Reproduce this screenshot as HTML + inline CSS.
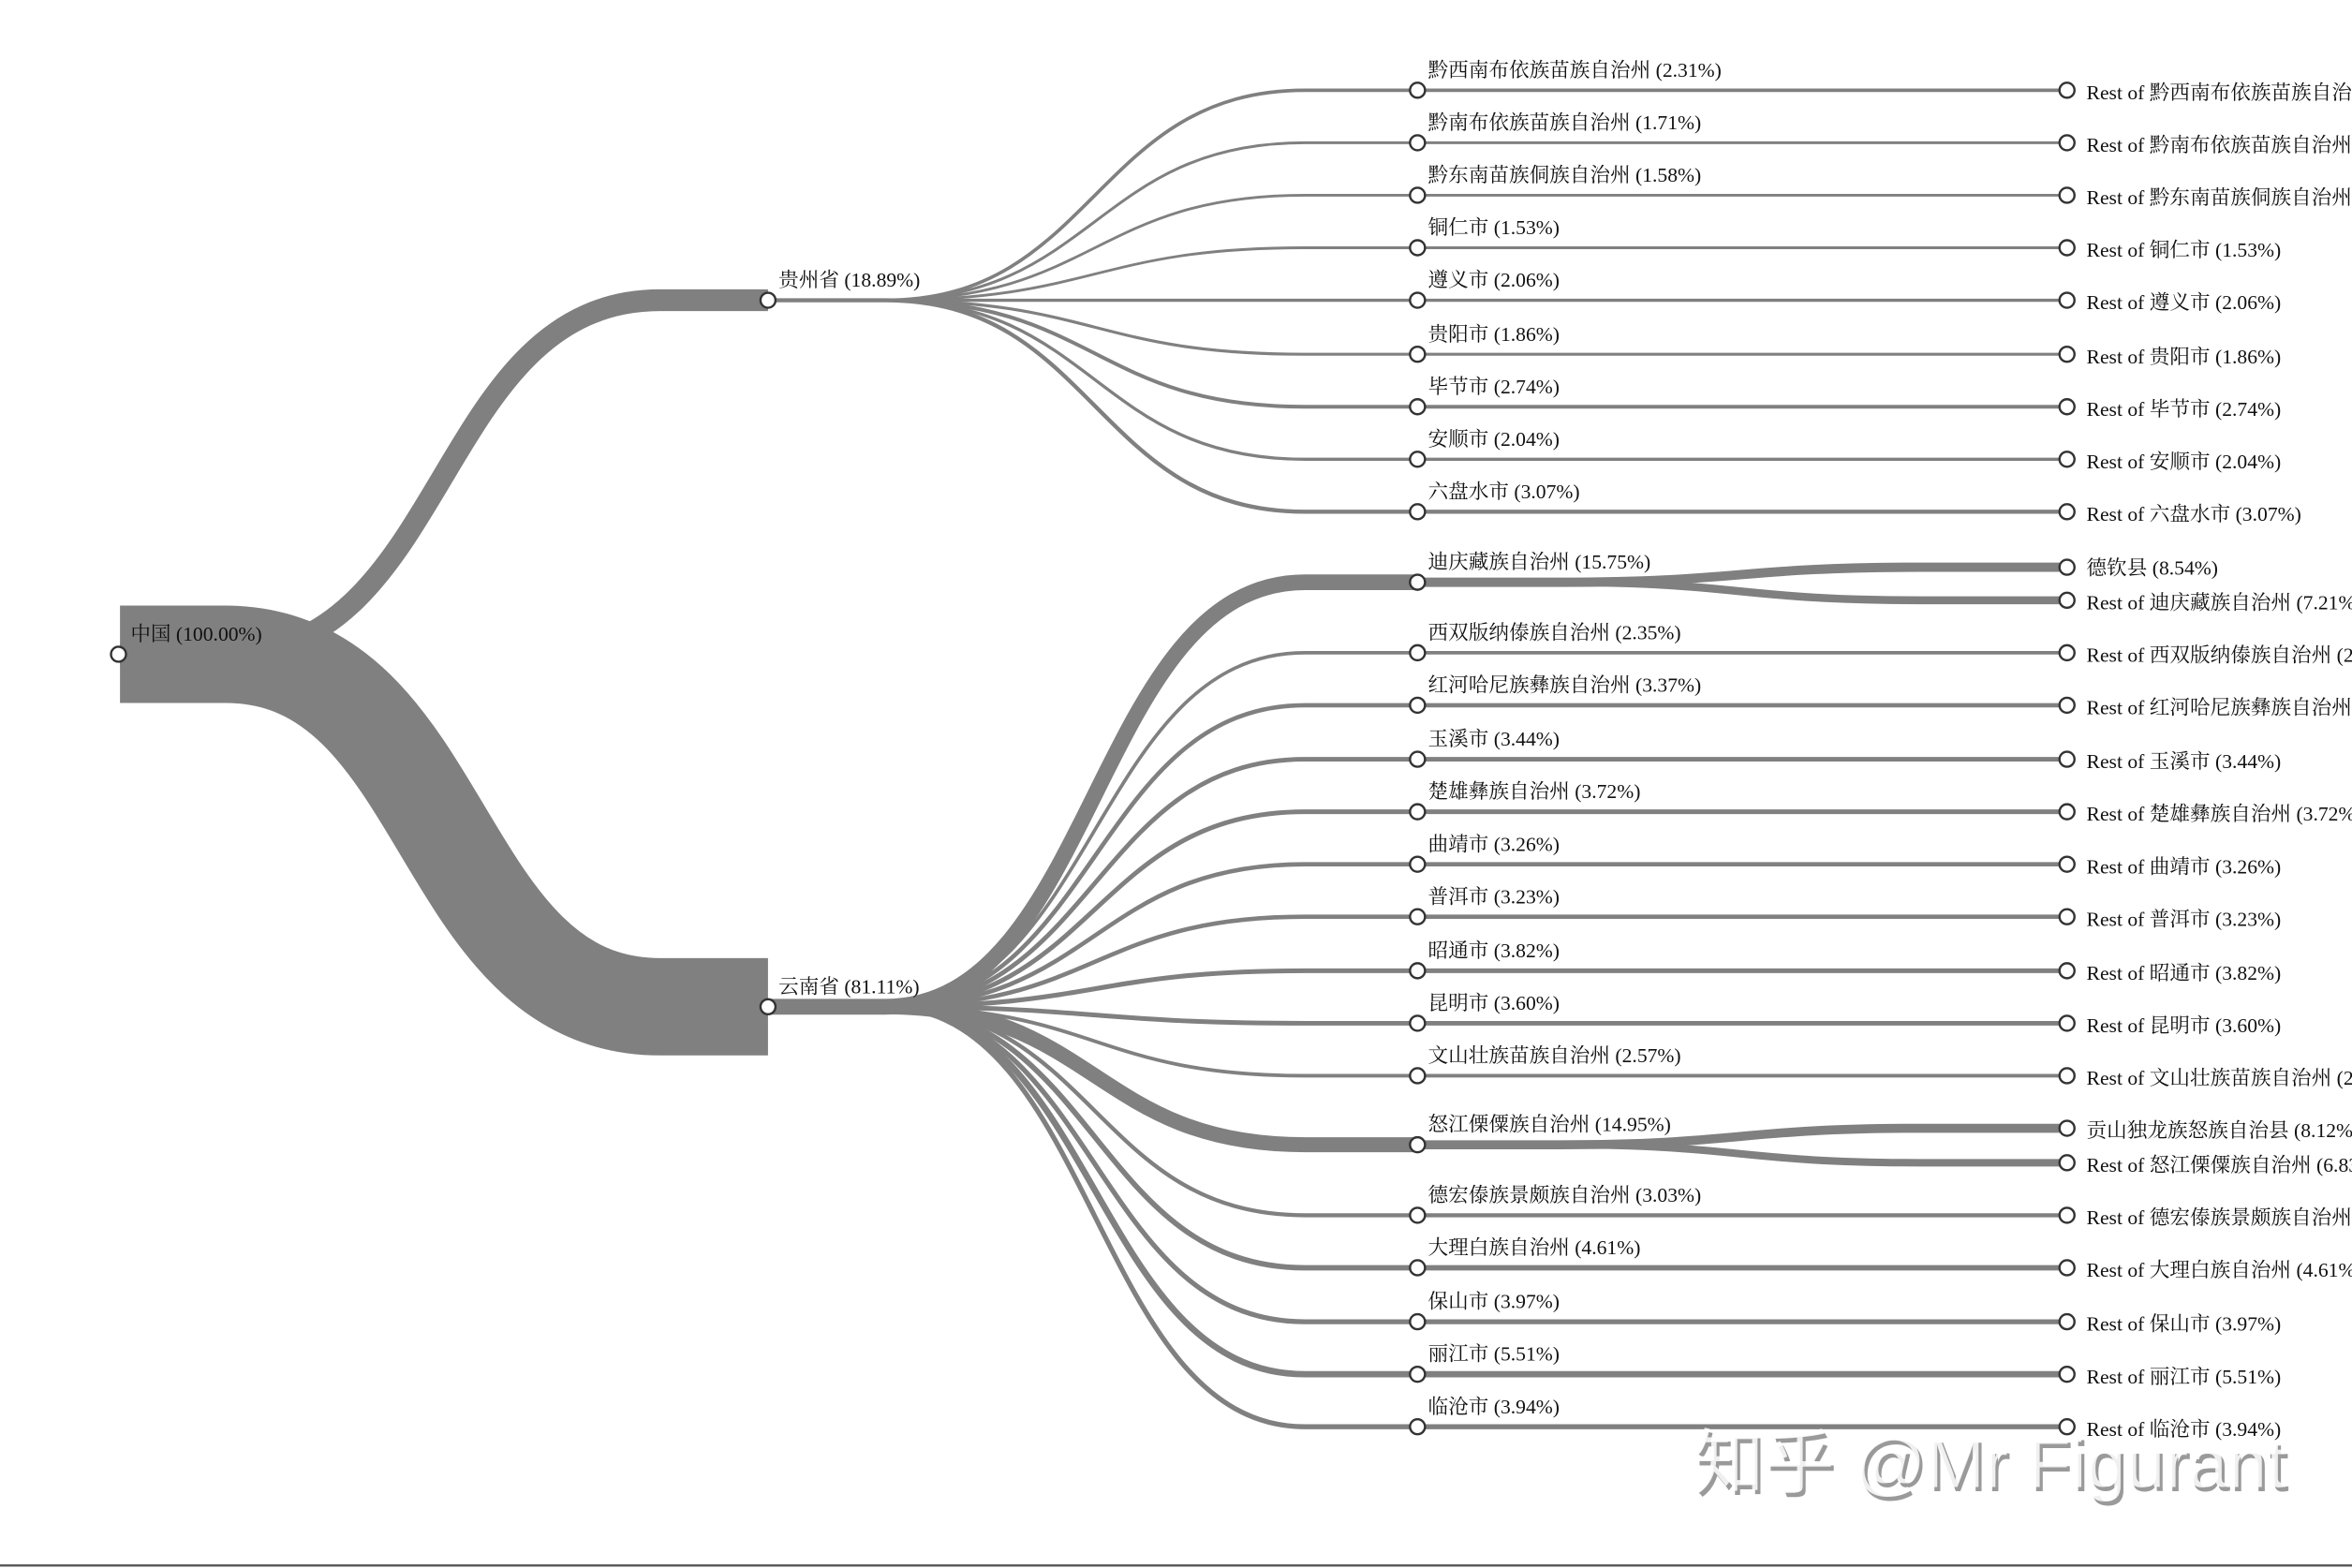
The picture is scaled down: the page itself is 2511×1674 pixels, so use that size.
<!DOCTYPE html>
<html><head><meta charset="utf-8"><style>
html,body{margin:0;padding:0;background:#fff;overflow:hidden}
svg{display:block}
text{font-family:"Liberation Serif","Noto Serif CJK SC","Noto Sans CJK SC",serif;font-size:13.5px;fill:#111}
.l{fill:none;stroke:#808080}
circle{fill:#fff;stroke:#333;stroke-width:1.5}
</style></head><body>
<svg width="2511" height="1674" viewBox="0 0 1568 1045" xmlns="http://www.w3.org/2000/svg">
<!-- root links -->
<path class="l" stroke-width="14.5" d="M80,436 L150,436 C300,436 290,200 440,200 L512,200"/>
<path class="l" stroke-width="64.9" d="M80,436 L150,436 C300,436 290,671 440,671 L512,671"/>
<!-- Guizhou children -->
<g>
<path class="l" stroke-width="2.3" d="M512,200 L590,200 C730,200 730,60 870,60 L945,60"/>
<path class="l" stroke-width="1.9" d="M512,200 L590,200 C730,200 730,95 870,95 L945,95"/>
<path class="l" stroke-width="1.8" d="M512,200 L590,200 C730,200 730,130 870,130 L945,130"/>
<path class="l" stroke-width="1.8" d="M512,200 L590,200 C730,200 730,165 870,165 L945,165"/>
<path class="l" stroke-width="2.1" d="M512,200 L590,200 C730,200 730,200 870,200 L945,200"/>
<path class="l" stroke-width="2.0" d="M512,200 L590,200 C730,200 730,236 870,236 L945,236"/>
<path class="l" stroke-width="2.5" d="M512,200 L590,200 C730,200 730,271 870,271 L945,271"/>
<path class="l" stroke-width="2.1" d="M512,200 L590,200 C730,200 730,306 870,306 L945,306"/>
<path class="l" stroke-width="2.7" d="M512,200 L590,200 C730,200 730,341 870,341 L945,341"/>
</g>
<!-- Yunnan children -->
<g>
<path class="l" stroke-width="10.5" d="M512,671 L590,671 C730,671 730,388 870,388 L945,388"/>
<path class="l" stroke-width="2.3" d="M512,671 L590,671 C730,671 730,435 870,435 L945,435"/>
<path class="l" stroke-width="2.9" d="M512,671 L590,671 C730,671 730,470 870,470 L945,470"/>
<path class="l" stroke-width="3.0" d="M512,671 L590,671 C730,671 730,506 870,506 L945,506"/>
<path class="l" stroke-width="3.1" d="M512,671 L590,671 C730,671 730,541 870,541 L945,541"/>
<path class="l" stroke-width="2.9" d="M512,671 L590,671 C730,671 730,576 870,576 L945,576"/>
<path class="l" stroke-width="2.9" d="M512,671 L590,671 C730,671 730,611 870,611 L945,611"/>
<path class="l" stroke-width="3.2" d="M512,671 L590,671 C730,671 730,647 870,647 L945,647"/>
<path class="l" stroke-width="3.1" d="M512,671 L590,671 C730,671 730,682 870,682 L945,682"/>
<path class="l" stroke-width="2.4" d="M512,671 L590,671 C730,671 730,717 870,717 L945,717"/>
<path class="l" stroke-width="10" d="M512,671 L590,671 C730,671 730,763 870,763 L945,763"/>
<path class="l" stroke-width="2.7" d="M512,671 L590,671 C730,671 730,810 870,810 L945,810"/>
<path class="l" stroke-width="3.6" d="M512,671 L590,671 C730,671 730,845 870,845 L945,845"/>
<path class="l" stroke-width="3.3" d="M512,671 L590,671 C730,671 730,881 870,881 L945,881"/>
<path class="l" stroke-width="4.2" d="M512,671 L590,671 C730,671 730,916 870,916 L945,916"/>
<path class="l" stroke-width="3.3" d="M512,671 L590,671 C730,671 730,951 870,951 L945,951"/>
</g>
<!-- level 4 links -->
<g>
<path class="l" stroke-width="2.3" d="M945,60 L1378,60"/>
<path class="l" stroke-width="1.9" d="M945,95 L1378,95"/>
<path class="l" stroke-width="1.8" d="M945,130 L1378,130"/>
<path class="l" stroke-width="1.8" d="M945,165 L1378,165"/>
<path class="l" stroke-width="2.1" d="M945,200 L1378,200"/>
<path class="l" stroke-width="2.0" d="M945,236 L1378,236"/>
<path class="l" stroke-width="2.5" d="M945,271 L1378,271"/>
<path class="l" stroke-width="2.1" d="M945,306 L1378,306"/>
<path class="l" stroke-width="2.7" d="M945,341 L1378,341"/>
<path class="l" stroke-width="6.2" d="M945,388 L1040,388 C1160,388 1160,378 1280,378 L1378,378"/>
<path class="l" stroke-width="5.3" d="M945,388 L1040,388 C1160,388 1160,400 1280,400 L1378,400"/>
<path class="l" stroke-width="2.3" d="M945,435 L1378,435"/>
<path class="l" stroke-width="2.9" d="M945,470 L1378,470"/>
<path class="l" stroke-width="3.0" d="M945,506 L1378,506"/>
<path class="l" stroke-width="3.1" d="M945,541 L1378,541"/>
<path class="l" stroke-width="2.9" d="M945,576 L1378,576"/>
<path class="l" stroke-width="2.9" d="M945,611 L1378,611"/>
<path class="l" stroke-width="3.2" d="M945,647 L1378,647"/>
<path class="l" stroke-width="3.1" d="M945,682 L1378,682"/>
<path class="l" stroke-width="2.4" d="M945,717 L1378,717"/>
<path class="l" stroke-width="6.0" d="M945,763 L1040,763 C1160,763 1160,752 1280,752 L1378,752"/>
<path class="l" stroke-width="5.0" d="M945,763 L1040,763 C1160,763 1160,775 1280,775 L1378,775"/>
<path class="l" stroke-width="2.7" d="M945,810 L1378,810"/>
<path class="l" stroke-width="3.6" d="M945,845 L1378,845"/>
<path class="l" stroke-width="3.3" d="M945,881 L1378,881"/>
<path class="l" stroke-width="4.2" d="M945,916 L1378,916"/>
<path class="l" stroke-width="3.3" d="M945,951 L1378,951"/>
</g>
<!-- nodes -->
<circle cx="79" cy="436" r="5"/>
<circle cx="512" cy="200" r="5"/>
<circle cx="512" cy="671" r="5"/>
<g>
<circle cx="945" cy="60" r="5"/><circle cx="945" cy="95" r="5"/><circle cx="945" cy="130" r="5"/><circle cx="945" cy="165" r="5"/><circle cx="945" cy="200" r="5"/><circle cx="945" cy="236" r="5"/><circle cx="945" cy="271" r="5"/><circle cx="945" cy="306" r="5"/><circle cx="945" cy="341" r="5"/>
<circle cx="945" cy="388" r="5"/><circle cx="945" cy="435" r="5"/><circle cx="945" cy="470" r="5"/><circle cx="945" cy="506" r="5"/><circle cx="945" cy="541" r="5"/><circle cx="945" cy="576" r="5"/><circle cx="945" cy="611" r="5"/><circle cx="945" cy="647" r="5"/><circle cx="945" cy="682" r="5"/><circle cx="945" cy="717" r="5"/><circle cx="945" cy="763" r="5"/><circle cx="945" cy="810" r="5"/><circle cx="945" cy="845" r="5"/><circle cx="945" cy="881" r="5"/><circle cx="945" cy="916" r="5"/><circle cx="945" cy="951" r="5"/>
</g>
<g>
<circle cx="1378" cy="60" r="5"/><circle cx="1378" cy="95" r="5"/><circle cx="1378" cy="130" r="5"/><circle cx="1378" cy="165" r="5"/><circle cx="1378" cy="200" r="5"/><circle cx="1378" cy="236" r="5"/><circle cx="1378" cy="271" r="5"/><circle cx="1378" cy="306" r="5"/><circle cx="1378" cy="341" r="5"/>
<circle cx="1378" cy="378" r="5"/><circle cx="1378" cy="400" r="5"/><circle cx="1378" cy="435" r="5"/><circle cx="1378" cy="470" r="5"/><circle cx="1378" cy="506" r="5"/><circle cx="1378" cy="541" r="5"/><circle cx="1378" cy="576" r="5"/><circle cx="1378" cy="611" r="5"/><circle cx="1378" cy="647" r="5"/><circle cx="1378" cy="682" r="5"/><circle cx="1378" cy="717" r="5"/><circle cx="1378" cy="752" r="5"/><circle cx="1378" cy="775" r="5"/><circle cx="1378" cy="810" r="5"/><circle cx="1378" cy="845" r="5"/><circle cx="1378" cy="881" r="5"/><circle cx="1378" cy="916" r="5"/><circle cx="1378" cy="951" r="5"/>
</g>
<!-- labels -->
<text x="87" y="427">中国 (100.00%)</text>
<text x="519" y="191">贵州省 (18.89%)</text>
<text x="519" y="662">云南省 (81.11%)</text>
<g>
<text x="952" y="51">黔西南布依族苗族自治州 (2.31%)</text>
<text x="952" y="86">黔南布依族苗族自治州 (1.71%)</text>
<text x="952" y="121">黔东南苗族侗族自治州 (1.58%)</text>
<text x="952" y="156">铜仁市 (1.53%)</text>
<text x="952" y="191">遵义市 (2.06%)</text>
<text x="952" y="227">贵阳市 (1.86%)</text>
<text x="952" y="262">毕节市 (2.74%)</text>
<text x="952" y="297">安顺市 (2.04%)</text>
<text x="952" y="332">六盘水市 (3.07%)</text>
<text x="952" y="379">迪庆藏族自治州 (15.75%)</text>
<text x="952" y="426">西双版纳傣族自治州 (2.35%)</text>
<text x="952" y="461">红河哈尼族彝族自治州 (3.37%)</text>
<text x="952" y="497">玉溪市 (3.44%)</text>
<text x="952" y="532">楚雄彝族自治州 (3.72%)</text>
<text x="952" y="567">曲靖市 (3.26%)</text>
<text x="952" y="602">普洱市 (3.23%)</text>
<text x="952" y="638">昭通市 (3.82%)</text>
<text x="952" y="673">昆明市 (3.60%)</text>
<text x="952" y="708">文山壮族苗族自治州 (2.57%)</text>
<text x="952" y="754">怒江傈僳族自治州 (14.95%)</text>
<text x="952" y="801">德宏傣族景颇族自治州 (3.03%)</text>
<text x="952" y="836">大理白族自治州 (4.61%)</text>
<text x="952" y="872">保山市 (3.97%)</text>
<text x="952" y="907">丽江市 (5.51%)</text>
<text x="952" y="942">临沧市 (3.94%)</text>
</g>
<g>
<text x="1391" y="66">Rest of 黔西南布依族苗族自治州 (2.31%)</text>
<text x="1391" y="101">Rest of 黔南布依族苗族自治州 (1.71%)</text>
<text x="1391" y="136">Rest of 黔东南苗族侗族自治州 (1.58%)</text>
<text x="1391" y="171">Rest of 铜仁市 (1.53%)</text>
<text x="1391" y="206">Rest of 遵义市 (2.06%)</text>
<text x="1391" y="242">Rest of 贵阳市 (1.86%)</text>
<text x="1391" y="277">Rest of 毕节市 (2.74%)</text>
<text x="1391" y="312">Rest of 安顺市 (2.04%)</text>
<text x="1391" y="347">Rest of 六盘水市 (3.07%)</text>
<text x="1391" y="383">德钦县 (8.54%)</text>
<text x="1391" y="406">Rest of 迪庆藏族自治州 (7.21%)</text>
<text x="1391" y="441">Rest of 西双版纳傣族自治州 (2.35%)</text>
<text x="1391" y="476">Rest of 红河哈尼族彝族自治州 (3.37%)</text>
<text x="1391" y="512">Rest of 玉溪市 (3.44%)</text>
<text x="1391" y="547">Rest of 楚雄彝族自治州 (3.72%)</text>
<text x="1391" y="582">Rest of 曲靖市 (3.26%)</text>
<text x="1391" y="617">Rest of 普洱市 (3.23%)</text>
<text x="1391" y="653">Rest of 昭通市 (3.82%)</text>
<text x="1391" y="688">Rest of 昆明市 (3.60%)</text>
<text x="1391" y="723">Rest of 文山壮族苗族自治州 (2.57%)</text>
<text x="1391" y="758">贡山独龙族怒族自治县 (8.12%)</text>
<text x="1391" y="781">Rest of 怒江傈僳族自治州 (6.83%)</text>
<text x="1391" y="816">Rest of 德宏傣族景颇族自治州 (3.03%)</text>
<text x="1391" y="851">Rest of 大理白族自治州 (4.61%)</text>
<text x="1391" y="887">Rest of 保山市 (3.97%)</text>
<text x="1391" y="922">Rest of 丽江市 (5.51%)</text>
<text x="1391" y="957">Rest of 临沧市 (3.94%)</text>
</g>
<!-- watermark -->
<text x="1131" y="994" style="font-family:'Liberation Sans','Noto Sans CJK SC',sans-serif;font-size:47px;fill:#9a9a9a">知乎 @Mr Figurant</text>
<text x="1129" y="991" style="font-family:'Liberation Sans','Noto Sans CJK SC',sans-serif;font-size:47px;fill:#ffffff;fill-opacity:0.85">知乎 @Mr Figurant</text>
<line x1="0" y1="1043.5" x2="1568" y2="1043.5" stroke="#555" stroke-width="1.5"/>
</svg>
</body></html>
